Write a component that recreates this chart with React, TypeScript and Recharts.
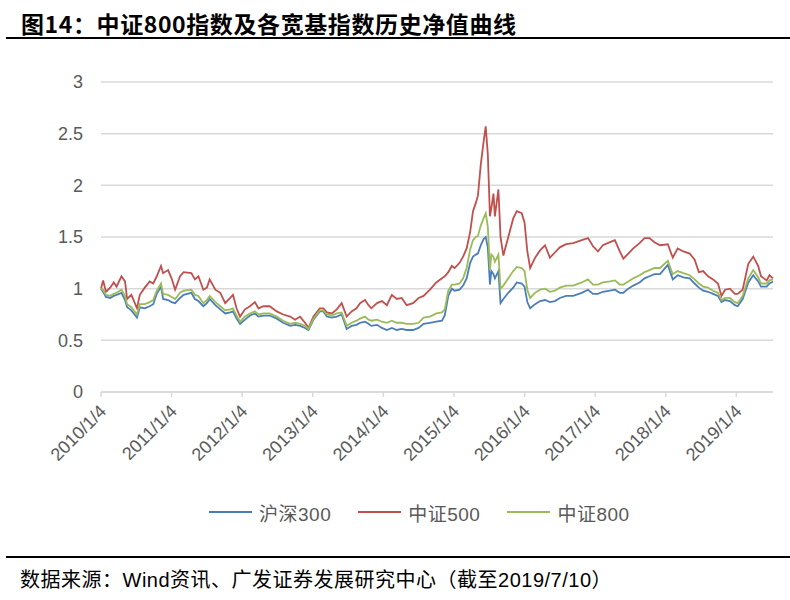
import React from 'react';
import { LineChart, Line, XAxis, YAxis, CartesianGrid } from 'recharts';

// time in years counted from 2010/1/4 (trading calendar)
const tradeTime = [
  2010.00, 2010.03, 2010.07, 2010.13, 2010.18, 2010.22, 2010.29, 2010.34, 2010.37, 2010.43,
  2010.51, 2010.55, 2010.62, 2010.69, 2010.74, 2010.79, 2010.85, 2010.88, 2010.95, 2011.00,
  2011.05, 2011.12, 2011.17, 2011.28, 2011.33, 2011.38, 2011.45, 2011.50, 2011.54, 2011.62,
  2011.69, 2011.76, 2011.83, 2011.87, 2011.92, 2011.97, 2012.04, 2012.11, 2012.18, 2012.23,
  2012.30, 2012.39, 2012.49, 2012.58, 2012.68, 2012.75, 2012.82, 2012.89, 2012.94, 2013.01,
  2013.10, 2013.15, 2013.20, 2013.27, 2013.34, 2013.41, 2013.48, 2013.55, 2013.62, 2013.67,
  2013.74, 2013.79, 2013.83, 2013.91, 2013.98, 2014.05, 2014.12, 2014.19, 2014.26, 2014.33,
  2014.42, 2014.50,
  2014.57, 2014.66, 2014.75, 2014.83, 2014.87, 2014.92, 2014.97, 2015.01, 2015.08, 2015.13,
  2015.18, 2015.23, 2015.27, 2015.31, 2015.34, 2015.38, 2015.42, 2015.45, 2015.48, 2015.51,
  2015.53, 2015.56, 2015.58, 2015.63, 2015.66, 2015.70, 2015.77, 2015.84, 2015.89, 2015.96,
  2016.00, 2016.04, 2016.08, 2016.15, 2016.22, 2016.29, 2016.36, 2016.43, 2016.50, 2016.59,
  2016.69, 2016.81, 2016.90, 2016.97, 2017.04, 2017.11, 2017.21, 2017.28, 2017.35, 2017.40,
  2017.47, 2017.54, 2017.63, 2017.70, 2017.77, 2017.84, 2017.92, 2018.03, 2018.10, 2018.17,
  2018.25, 2018.34, 2018.41, 2018.47, 2018.53, 2018.60, 2018.67, 2018.74, 2018.79, 2018.84,
  2018.91, 2018.98, 2019.02, 2019.09, 2019.17, 2019.24, 2019.31, 2019.35, 2019.43, 2019.47,
  2019.52,
];

// 沪深300 net value
const hs300 = [
  1.00, 0.97, 0.92, 0.91, 0.93, 0.94, 0.96, 0.89, 0.82, 0.79,
  0.72, 0.82, 0.81, 0.83, 0.85, 0.95, 1.02, 0.90, 0.89, 0.87,
  0.86, 0.91, 0.94, 0.96, 0.90, 0.88, 0.83, 0.86, 0.90, 0.84,
  0.80, 0.76, 0.77, 0.78, 0.71, 0.66, 0.70, 0.74, 0.76, 0.73,
  0.74, 0.74, 0.71, 0.67, 0.64, 0.65, 0.64, 0.62, 0.60, 0.70,
  0.78, 0.78, 0.73, 0.72, 0.73, 0.75, 0.61, 0.64, 0.65, 0.67,
  0.68, 0.66, 0.64, 0.65, 0.62, 0.60, 0.62, 0.60, 0.61, 0.60,
  0.60, 0.62,
  0.66, 0.67, 0.68, 0.69, 0.74, 0.93, 1.00, 0.98, 0.99, 1.03,
  1.10, 1.25, 1.31, 1.33, 1.34, 1.42, 1.48, 1.50, 1.40, 1.04,
  1.17, 1.14, 1.10, 1.17, 0.86, 0.90, 0.96, 1.01, 1.06, 1.05,
  1.02, 0.87, 0.81, 0.85, 0.88, 0.89, 0.87, 0.88, 0.91, 0.93,
  0.93, 0.96, 0.99, 0.95, 0.95, 0.97, 0.98, 0.99, 0.96, 0.96,
  1.00, 1.03, 1.06, 1.10, 1.12, 1.14, 1.14, 1.23, 1.09, 1.13,
  1.11, 1.10, 1.05, 1.01, 0.98, 0.97, 0.95, 0.93, 0.87, 0.89,
  0.88, 0.84, 0.83, 0.90, 1.06, 1.13, 1.07, 1.02, 1.02, 1.05,
  1.07,
];

// 中证500 net value
const zz500 = [
  1.00, 1.08, 0.97, 1.01, 1.06, 1.02, 1.12, 1.07, 0.90, 0.94,
  0.81, 0.94, 1.01, 1.07, 1.05, 1.12, 1.22, 1.15, 1.18, 1.10,
  0.99, 1.12, 1.16, 1.15, 1.09, 1.12, 0.99, 1.01, 1.09, 0.99,
  0.96, 0.86, 0.91, 0.94, 0.81, 0.73, 0.80, 0.83, 0.87, 0.81,
  0.83, 0.83, 0.78, 0.75, 0.73, 0.70, 0.73, 0.67, 0.62, 0.73,
  0.81, 0.81, 0.77, 0.76, 0.80, 0.86, 0.73, 0.78, 0.81, 0.86,
  0.89, 0.84, 0.81, 0.86, 0.88, 0.84, 0.94, 0.90, 0.91, 0.84,
  0.86, 0.91,
  0.93, 0.99, 1.06, 1.10, 1.12, 1.16, 1.22, 1.20, 1.25, 1.31,
  1.39, 1.55, 1.75, 1.83, 1.90, 2.20, 2.42, 2.57, 2.30, 1.70,
  1.78, 1.92, 1.70, 1.96, 1.50, 1.32, 1.50, 1.68, 1.75, 1.73,
  1.64, 1.36, 1.20, 1.30, 1.37, 1.42, 1.30, 1.35, 1.40, 1.43,
  1.44, 1.47, 1.49, 1.41, 1.36, 1.42, 1.45, 1.47, 1.36, 1.29,
  1.34, 1.39, 1.44, 1.49, 1.49, 1.45, 1.42, 1.43, 1.30, 1.39,
  1.36, 1.34, 1.28, 1.16, 1.17, 1.12, 1.09, 1.05, 0.93, 0.99,
  1.00, 0.95, 0.95, 0.99, 1.24, 1.31, 1.22, 1.12, 1.08, 1.13,
  1.10,
];

// 中证800 net value
const zz800 = [
  1.00, 0.99, 0.94, 0.93, 0.95, 0.96, 0.99, 0.93, 0.85, 0.82,
  0.75, 0.85, 0.85, 0.87, 0.89, 0.98, 1.05, 0.95, 0.94, 0.92,
  0.90, 0.96, 0.98, 0.99, 0.94, 0.93, 0.86, 0.89, 0.93, 0.87,
  0.83, 0.79, 0.80, 0.81, 0.74, 0.68, 0.73, 0.76, 0.78, 0.75,
  0.76, 0.76, 0.73, 0.69, 0.66, 0.67, 0.66, 0.64, 0.61, 0.71,
  0.79, 0.79, 0.75, 0.74, 0.76, 0.77, 0.64, 0.67, 0.69, 0.71,
  0.73, 0.70, 0.69, 0.70, 0.68, 0.67, 0.69, 0.67, 0.67, 0.66,
  0.66, 0.67,
  0.72, 0.73, 0.76, 0.77, 0.80, 0.98, 1.04, 1.04, 1.05, 1.10,
  1.20, 1.38, 1.47, 1.50, 1.51, 1.61, 1.68, 1.73, 1.60, 1.18,
  1.33, 1.31, 1.26, 1.33, 1.00, 1.03, 1.10, 1.17, 1.21, 1.20,
  1.17, 0.99, 0.91, 0.96, 0.99, 1.00, 0.97, 0.98, 1.01, 1.03,
  1.03, 1.06, 1.09, 1.04, 1.04, 1.06, 1.07, 1.08, 1.04, 1.04,
  1.07, 1.10, 1.13, 1.16, 1.18, 1.20, 1.20, 1.27, 1.14, 1.17,
  1.15, 1.13, 1.09, 1.05, 1.02, 1.01, 0.98, 0.96, 0.89, 0.91,
  0.91, 0.87, 0.86, 0.93, 1.10, 1.18, 1.11, 1.05, 1.05, 1.08,
  1.09,
];

const yearTicks = [2010, 2011, 2012, 2013, 2014, 2015, 2016, 2017, 2018, 2019];
const valueTicks = [0, 0.5, 1, 1.5, 2, 2.5, 3];

const series = [
  { key: 'hs300', name: '沪深300', color: '#4A7EBB' },
  { key: 'zz500', name: '中证500', color: '#C0504D' },
  { key: 'zz800', name: '中证800', color: '#9BBB59' },
];

const chartData = tradeTime.map((t, i) => ({
  t,
  hs300: hs300[i],
  zz500: zz500[i],
  zz800: zz800[i],
}));

const FONT = "'Liberation Sans', 'Noto Sans CJK SC', sans-serif";
const AXIS_GREY = '#595959';

const YearTick = (props: any) => {
  const { x, y, payload } = props;
  const ax = x + 2;
  const ay = y + 9;
  return (
    <text
      x={ax}
      y={ay}
      dy="0.35em"
      textAnchor="end"
      transform={`rotate(-45 ${ax} ${ay})`}
      fill={AXIS_GREY}
      fontSize={18}
      fontFamily={FONT}
    >
      {`${payload.value}/1/4`}
    </text>
  );
};

const App = () => {
  return (
    <div style={{ position: 'absolute', left: 0, top: 0, width: 790, height: 600, background: '#fff', fontFamily: FONT }}>
      <div style={{ position: 'absolute', left: 21, top: 6, fontSize: 23, fontWeight: 700, letterSpacing: 0.6, color: '#000', whiteSpace: 'nowrap', fontFamily: "'Noto Sans CJK SC', sans-serif" }}>
        图14：中证800指数及各宽基指数历史净值曲线
      </div>
      <div style={{ position: 'absolute', left: 6, top: 37, width: 784, height: 2, background: '#000' }} />

      <LineChart
        width={790}
        height={600}
        data={chartData}
        margin={{ top: 82, right: 17, bottom: 128, left: 41 }}
        style={{ position: 'absolute', left: 0, top: 0 }}
      >
        <CartesianGrid vertical={false} stroke="#d9d9d9" strokeWidth={1.5} />
        <XAxis
          dataKey="t"
          type="number"
          domain={[2010, 2019.52]}
          ticks={yearTicks}
          interval={0}
          height={80}
          axisLine={{ stroke: '#d9d9d9', strokeWidth: 1.5 }}
          tickLine={{ stroke: '#d9d9d9', strokeWidth: 1.5 }}
          tickSize={5}
          tick={<YearTick />}
        />
        <YAxis
          domain={[0, 3]}
          ticks={valueTicks}
          width={60}
          axisLine={false}
          tickLine={false}
          tickMargin={12}
          tick={{ fill: AXIS_GREY, fontSize: 18, fontFamily: FONT }}
        />
        {series.map((s) => (
          <Line
            key={s.key}
            type="linear"
            dataKey={s.key}
            name={s.name}
            stroke={s.color}
            strokeWidth={1.8}
            dot={false}
            isAnimationActive={false}
          />
        ))}
      </LineChart>

      {/* legend row under the plot */}
      <div style={{ position: 'absolute', left: 209, top: 499, display: 'flex', alignItems: 'center', height: 26 }}>
        {series.map((s) => (
          <div key={s.key} style={{ display: 'flex', alignItems: 'center', marginRight: 27 }}>
            <div style={{ width: 43, height: 2, background: s.color }} />
            <span style={{ marginLeft: 7, fontSize: 19, letterSpacing: 0.5, color: AXIS_GREY, fontFamily: FONT }}>{s.name}</span>
          </div>
        ))}
      </div>

      <div style={{ position: 'absolute', left: 6, top: 556, width: 784, height: 2, background: '#000' }} />
      <div style={{ position: 'absolute', left: 20, top: 564, fontSize: 20, letterSpacing: 0.5, color: '#000', whiteSpace: 'nowrap', fontFamily: FONT }}>
        数据来源：Wind资讯、广发证券发展研究中心（截至2019/7/10）
      </div>
    </div>
  );
};

export default App;
